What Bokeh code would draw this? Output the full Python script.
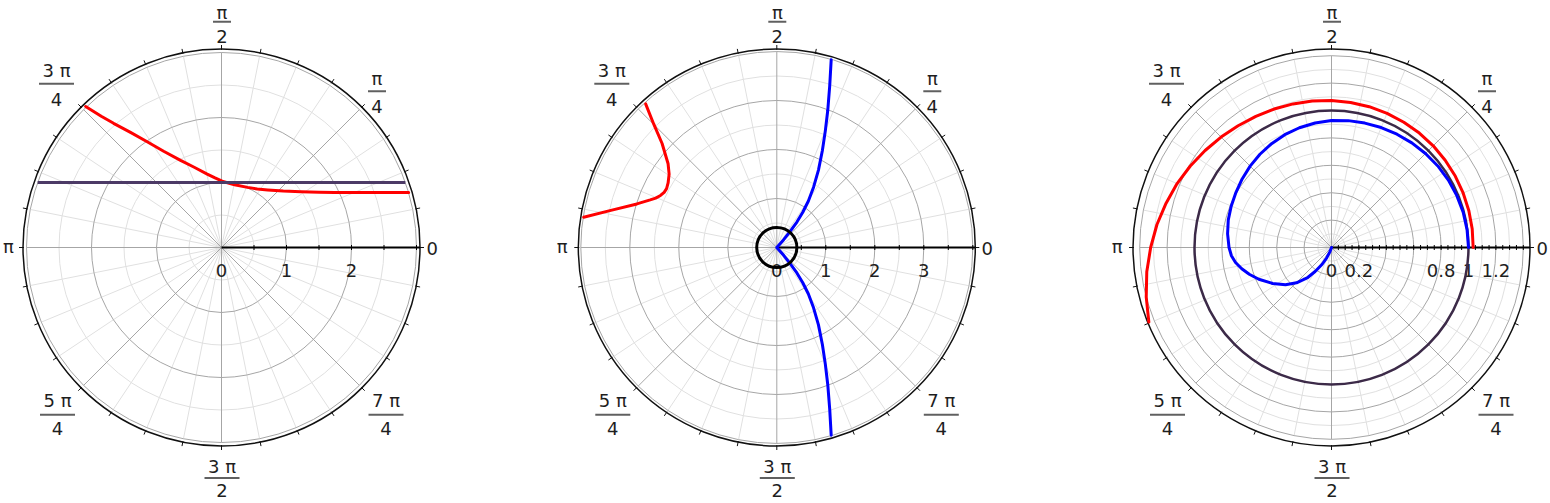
import numpy as np
from bokeh.plotting import figure
from bokeh.layouts import row
from bokeh.models import Range1d
from bokeh.core.properties import value
from bokeh.embed import file_html
from bokeh.resources import INLINE

# ---------------- data ----------------
# angular labels shared by the three polar panels
angle_label_deg = [0, 45, 90, 135, 180, 225, 270, 315]
angle_label_num = ["0", "π", "π", "3 π", "π", "5 π", "3 π", "7 π"]
angle_label_den = ["", "4", "2", "4", "", "4", "2", "4"]

# panel 1
p1_red_theta = [133.93, 132.49, 130.99, 128.34, 125.21, 121.02, 115.18, 108.78, 101.02, 95.34, 89.44,
                78.29, 66.61, 58.57, 51.26, 42.41, 35.09, 29.54, 25.96, 20.17, 16.35]
p1_red_r = [3.013, 2.739, 2.531, 2.257, 1.995, 1.727, 1.481, 1.304, 1.151, 1.075, 1.020,
            0.986, 1.008, 1.055, 1.135, 1.287, 1.491, 1.724, 1.935, 2.450, 3.001]
p1_purple_theta = [19.47, 90.0, 160.53]
p1_purple_r = [3.0, 1.0, 3.0]
p1_rmax = 3.0
p1_major_r = [1.0, 2.0, 3.0]
p1_minor_r = [0.5, 1.5, 2.5]
p1_tick_step = 0.5
p1_rlabel_values = [0, 1, 2]
p1_rlabel_text = ["0", "1", "2"]

# panel 2
p2_red_theta = [132.4, 134.9, 137.8, 142.4, 145.7, 149.3, 151.9, 153.9, 155.9, 157.8, 159.4, 162.7, 167.4, 171.1]
p2_red_r = [3.97, 3.56, 3.16, 2.80, 2.66, 2.58, 2.55, 2.56, 2.60, 2.67, 2.76, 2.99, 3.47, 3.99]
p2_blue_theta = [-73.84, -71.88, -69.62, -67.41, -64.84, -61.72, -58.63, -55.83, -53.64, -51.75, -50.53, -48.81, 0.0,
                 48.81, 50.53, 51.75, 53.64, 55.83, 58.63, 61.72, 64.84, 67.41, 69.62, 71.88, 73.84]
p2_blue_r = [3.988, 3.472, 2.987, 2.578, 2.188, 1.794, 1.441, 1.148, 0.894, 0.662, 0.441, 0.213, 0.0,
             0.213, 0.441, 0.662, 0.894, 1.148, 1.441, 1.794, 2.188, 2.578, 2.987, 3.472, 3.988]
p2_black_r = 0.41
p2_rmax = 4.0
p2_major_r = [1.0, 2.0, 3.0, 4.0]
p2_minor_r = [0.5, 1.5, 2.5, 3.5]
p2_tick_step = 0.5
p2_rlabel_values = [0, 1, 2, 3]
p2_rlabel_text = ["0", "1", "2", "3"]

# panel 3
p3_red_theta = [0, 7.5, 15, 22.5, 30, 37.5, 45, 52.5, 60, 67.5, 75, 82.5, 90, 97.5, 105, 112.5, 120,
                127.5, 135, 142.5, 150, 157.5, 165, 172.5, 180, 187.5, 195, 202.2]
p3_red_r = [1.034, 1.036, 1.038, 1.040, 1.043, 1.046, 1.050, 1.053, 1.056, 1.060, 1.064, 1.068, 1.073,
            1.078, 1.085, 1.094, 1.105, 1.120, 1.140, 1.163, 1.190, 1.220, 1.250, 1.285, 1.320, 1.360,
            1.400, 1.440]
p3_blue_theta = [0, 7.5, 15, 22.5, 30, 37.5, 45, 52.5, 60, 67.5, 75, 82.5, 90, 97.5, 105, 112.5, 120,
                 127.5, 135, 142.5, 150, 157.5, 165, 172.5, 180, 184.7, 188.9, 193.3, 198.0, 203.6,
                 211.4, 219.0, 225.3, 231.3, 235.6, 240.9, 245.0, 249.4, 252.0]
p3_blue_r = [1.0, 0.998, 0.995, 0.990, 0.985, 0.978, 0.970, 0.963, 0.955, 0.948, 0.940, 0.934, 0.927,
             0.917, 0.905, 0.891, 0.875, 0.858, 0.840, 0.822, 0.805, 0.792, 0.780, 0.765, 0.748, 0.733,
             0.709, 0.673, 0.631, 0.579, 0.504, 0.432, 0.363, 0.285, 0.212, 0.140, 0.083, 0.034, 0.0]
p3_purple_r = 1.0
p3_rmax = 1.4
p3_major_r = [0.2, 0.4, 0.6, 0.8, 1.0, 1.2, 1.4]
p3_minor_r = [0.1, 0.3, 0.5, 0.7, 0.9, 1.1, 1.3]
p3_tick_step = 0.05
p3_rlabel_values = [0, 0.2, 0.8, 1.0, 1.2]
p3_rlabel_text = ["0", "0.2", "0.8", "1", "1.2"]

# ---------------- styling / layout ----------------
RED = "#ff0000"
BLUE = "#0000ff"
PURPLE1 = "#4c3a66"
PURPLE3 = "#3c2a48"
MAJOR = "#a6a6a6"
MINOR = "#e0e0e0"
TXT = "#1e1e1e"
FONT = value("DejaVu Sans")
FSIZE = value("18px")
H = 503
CY = 247           # centre row inside each figure (px from top)
BORDER_PX = 198.5
SHIFT = 7.0        # rendered glyph bottom sits this far below the requested baseline

# per label: (x offset, numerator bottom, bar, denominator bottom) in px, downward positive
frac_layout = {45: (155.5, -162, -156.3, -134), 90: (0.5, -228.5, -225.7, -204.5),
               135: (-165, -170, -163.7, -141), 225: (-164, 160, 167.3, 188),
               270: (0.5, 225.5, 230.5, 250), 315: (164.5, 160, 167.3, 188)}


def pol(theta_deg, r):
    t = np.radians(np.asarray(theta_deg, dtype=float))
    r = np.asarray(r, dtype=float)
    return r * np.cos(t), r * np.sin(t)


def label(p, px, dx, bottom, txt):
    p.text(x=[dx * px], y=[-(bottom - SHIFT) * px], text=[txt], text_font=FONT,
           text_font_size=FSIZE, text_color=TXT, text_align="center",
           text_baseline="alphabetic")


def panel(width, cx, s, rmax, major_r, minor_r, tick_step, rvals, rtexts, pi_dx, zero_dx):
    p = figure(width=width, height=H,
               x_range=Range1d(-cx / s, (width - cx) / s),
               y_range=Range1d(-(H - CY) / s, CY / s),
               output_backend="svg", toolbar_location=None, tools="",
               x_axis_type=None, y_axis_type=None, min_border=0)
    p.grid.visible = False
    p.outline_line_color = None
    p.background_fill_color = "white"
    p.border_fill_color = "white"

    rb = BORDER_PX / s
    px = 1.0 / s

    # minor spokes and circles
    minor_ang = [a for a in np.arange(0, 360, 11.25) if a % 45 != 0]
    x1, y1 = pol(minor_ang, [rmax] * len(minor_ang))
    p.segment(x0=[0] * len(minor_ang), y0=[0] * len(minor_ang), x1=x1, y1=y1,
              line_color=MINOR, line_width=1)
    p.circle(x=[0] * len(minor_r), y=[0] * len(minor_r), radius=minor_r,
             fill_color=None, line_color=MINOR, line_width=1)
    # major circles and spokes
    p.circle(x=[0] * len(major_r), y=[0] * len(major_r), radius=major_r,
             fill_color=None, line_color=MAJOR, line_width=1)
    major_ang = [45, 90, 135, 180, 225, 270, 315]
    x1, y1 = pol(major_ang, [rmax] * len(major_ang))
    p.segment(x0=[0] * len(major_ang), y0=[0] * len(major_ang), x1=x1, y1=y1,
              line_color=MAJOR, line_width=1)

    # outer border and its ticks
    p.circle(x=[0], y=[0], radius=[rb], fill_color=None, line_color="#111111", line_width=1.5)
    tang = np.arange(0, 360, 11.25)
    xa, ya = pol(tang, [rb - 1 * px] * len(tang))
    xb, yb = pol(tang, [rb + 4 * px] * len(tang))
    p.segment(x0=xa, y0=ya, x1=xb, y1=yb, line_color="#111111", line_width=1)

    # radial axis
    p.segment(x0=[0], y0=[0], x1=[rb], y1=[0], line_color="black", line_width=2)
    tv = np.arange(tick_step, rb, tick_step)
    p.segment(x0=tv, y0=[-2.5 * px] * len(tv), x1=tv, y1=[2.5 * px] * len(tv),
              line_color="black", line_width=1)
    for v, t in zip(rvals, rtexts):
        label(p, px, v * s, 29.7, t)

    # angular labels
    for ang, num, den in zip(angle_label_deg, angle_label_num, angle_label_den):
        if den == "":
            if ang == 0:
                label(p, px, zero_dx, 8, num)
            else:
                label(p, px, pi_dx, 6, num)
            continue
        dx, nb, bar_y, db = frac_layout[ang]
        half = 17.5 if len(num) > 1 else 9
        label(p, px, dx, nb, num)
        p.segment(x0=[(dx - half) * px], y0=[-bar_y * px], x1=[(dx + half) * px], y1=[-bar_y * px],
                  line_color="#606060", line_width=2)
        label(p, px, dx, db, den)
    return p


# ---------------- panel 1 ----------------
f1 = panel(517, 221, 65.0, p1_rmax, p1_major_r, p1_minor_r, p1_tick_step,
           p1_rlabel_values, p1_rlabel_text, pi_dx=-213, zero_dx=210.7)
x, y = pol(p1_red_theta, p1_red_r)
f1.line(x, y, line_color=RED, line_width=3, line_join="round", line_cap="round")
x, y = pol(p1_purple_theta, p1_purple_r)
f1.line(x, y, line_color=PURPLE1, line_width=3)

# ---------------- panel 2 ----------------
f2 = panel(517, 259.3, 49.0, p2_rmax, p2_major_r, p2_minor_r, p2_tick_step,
           p2_rlabel_values, p2_rlabel_text, pi_dx=-214.6, zero_dx=210.4)
x, y = pol(p2_red_theta, p2_red_r)
f2.line(x, y, line_color=RED, line_width=3, line_join="round", line_cap="round")
x, y = pol(p2_blue_theta, p2_blue_r)
f2.line(x, y, line_color=BLUE, line_width=3, line_join="round", line_cap="round")
f2.circle(x=[0], y=[0], radius=[p2_black_r], fill_color=None, line_color="black", line_width=3)

# ---------------- panel 3 ----------------
f3 = panel(516, 297, 137.0, p3_rmax, p3_major_r, p3_minor_r, p3_tick_step,
           p3_rlabel_values, p3_rlabel_text, pi_dx=-214.3, zero_dx=210.7)
x, y = pol(p3_red_theta, p3_red_r)
f3.line(x, y, line_color=RED, line_width=3, line_join="round", line_cap="round")
f3.circle(x=[0], y=[0], radius=[p3_purple_r], fill_color=None, line_color=PURPLE3, line_width=2.5)
x, y = pol(p3_blue_theta, p3_blue_r)
f3.line(x, y, line_color=BLUE, line_width=3, line_join="round", line_cap="round")

layout = row(f1, f2, f3)
open("out.html", "w").write(file_html(layout, INLINE))
